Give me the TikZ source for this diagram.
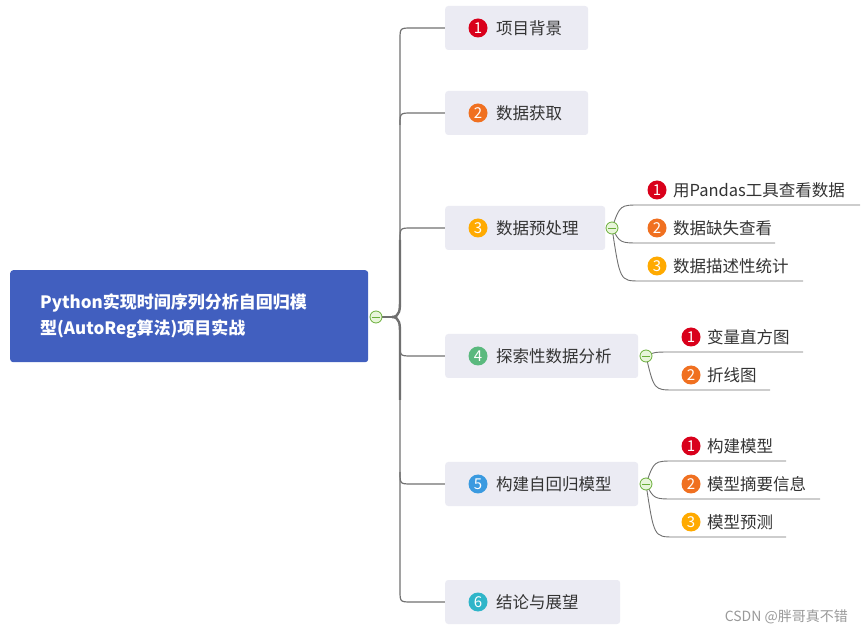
\documentclass[tikz,border=0pt]{standalone}
\usepackage{fontspec}
\setmainfont{Noto Sans CJK SC}
\begin{document}
\begin{tikzpicture}[x=1pt,y=-1pt,
  box/.style={fill=boxc,rounded corners=3pt,minimum height=44pt,anchor=west,inner sep=0pt},
  num/.style={circle,fill=#1,text=white,inner sep=0pt,minimum size=19pt,font=\fontsize{15}{15}\selectfont},
  lbl/.style={anchor=west,font=\fontsize{16.5}{16.5}\selectfont,text=txt,inner sep=0pt},
  slbl/.style={anchor=west,font=\fontsize{16.5}{16.5}\selectfont,text=txt,inner sep=0pt},
  tog/.style={circle,draw=togd,fill=togf,line width=0.8pt,minimum size=12pt,inner sep=0pt},
  trunk/.style={draw=trc,line width=2.4pt},
  br/.style={draw=trc,line width=1.2pt},
  sub/.style={draw=trc,line width=0.9pt}]
\definecolor{boxc}{HTML}{EBEBF3}
\definecolor{txt}{HTML}{333333}
\definecolor{trc}{HTML}{707070}
\definecolor{togd}{HTML}{6AAF3A}
\definecolor{togf}{HTML}{E8F5DA}
\definecolor{c1}{HTML}{D9001B}
\definecolor{c2}{HTML}{F07020}
\definecolor{c3}{HTML}{FFAA00}
\definecolor{c4}{HTML}{5AB97E}
\definecolor{c5}{HTML}{3A9AE0}
\definecolor{c6}{HTML}{2FB5C9}
\definecolor{rootc}{HTML}{415FBF}
\useasboundingbox (0,0) rectangle (863,636);
% root
\node[fill=rootc,rounded corners=3pt,minimum width=358pt,minimum height=92pt,anchor=north west,inner sep=0pt] (root) at (10,270) {};
\node[anchor=west,text=white,font=\bfseries\fontsize{17}{26}\selectfont,align=left,inner sep=0pt] (rt) at (40,316) {Python实现时间序列分析自回归模\\型(AutoReg算法)项目实战};
% trunk
\foreach \y/\n in {28/a,113/b,228/c,356/d,484/e,602/f}{\coordinate (j\n) at (445,\y);}
\draw[trunk] (376,317) -- (392,317);
\draw[trunk] (392,317) .. controls (400,317) and (400,309) .. (400,300) -- (400,240);
\draw[trunk] (392,317) .. controls (400,317) and (400,325) .. (400,334) -- (400,400);
\draw[br] (400,240) -- (400,40) .. controls (400,28) .. (412,28) -- (ja);
\draw[br] (400,125) .. controls (400,113) .. (412,113) -- (jb);
\draw[br] (400,240) .. controls (400,228) .. (412,228) -- (jc);
\draw[br] (400,344) .. controls (400,356) .. (412,356) -- (jd);
\draw[br] (400,400) -- (400,590) .. controls (400,602) .. (412,602) -- (jf);
\draw[br] (400,472) .. controls (400,484) .. (412,484) -- (je);
\node[tog] (t0) at (376,317) {};
\draw[togd,line width=0.9pt] (372,317) -- (380,317);
% level 1
\node[box,minimum width=143pt] (b1) at (ja) {};
\node[box,minimum width=143pt] (b2) at (jb) {};
\node[box,minimum width=160pt] (b3) at (jc) {};
\node[box,minimum width=193pt] (b4) at (jd) {};
\node[box,minimum width=193pt] (b5) at (je) {};
\node[box,minimum width=175pt] (b6) at (jf) {};
\foreach \y/\c/\k/\t in {28/c1/1/项目背景,113/c2/2/数据获取,228/c3/3/数据预处理,356/c4/4/探索性数据分析,484/c5/5/构建自回归模型,602/c6/6/结论与展望}{
  \node[num=\c] (n\k) at (478,\y) {\k};
  \node[lbl] (l\k) at (496,\y) {\t};
}
\coordinate (t3c) at (612,228);
\coordinate (t4c) at (646,356);
\coordinate (t5c) at (646,484);
% group 3
\foreach \yl/\ye/\k/\c/\t in {205/860/1/c1/用Pandas工具查看数据,243/775/2/c2/数据缺失查看,281/803/3/c3/数据描述性统计}{
  \coordinate (e3\k) at (640,\yl);
  \draw[sub] (t3c) .. controls (620,\yl) .. (e3\k) -- (\ye,\yl);
  \node[num=\c] at (657,\yl-15) {\k};
  \node[slbl] at (673,\yl-15) {\t};
}
\foreach \yl/\ye/\k/\c/\t in {352/803/1/c1/变量直方图,390/770/2/c2/折线图}{
  \coordinate (e4\k) at (674,\yl);
  \draw[sub] (t4c) .. controls (654,\yl) .. (e4\k) -- (\ye,\yl);
  \node[num=\c] at (691,\yl-15) {\k};
  \node[slbl] at (707,\yl-15) {\t};
}
\foreach \yl/\ye/\k/\c/\t in {461/786/1/c1/构建模型,499/820/2/c2/模型摘要信息,537/786/3/c3/模型预测}{
  \coordinate (e5\k) at (674,\yl);
  \draw[sub] (t5c) .. controls (654,\yl) .. (e5\k) -- (\ye,\yl);
  \node[num=\c] at (691,\yl-15) {\k};
  \node[slbl] at (707,\yl-15) {\t};
}
% toggles on top
\node[tog] (t3) at (t3c) {};
\node[tog] (t4) at (t4c) {};
\node[tog] (t5) at (t5c) {};
\foreach \t in {t3,t4,t5}{\draw[togd,line width=0.9pt] ([xshift=-4pt]\t.center) -- ([xshift=4pt]\t.center);}
\node[anchor=east,text=gray!80,font=\fontsize{14}{14}\selectfont,inner sep=0pt] (wm) at (848,617) {CSDN @胖哥真不错};
\end{tikzpicture}
\end{document}
